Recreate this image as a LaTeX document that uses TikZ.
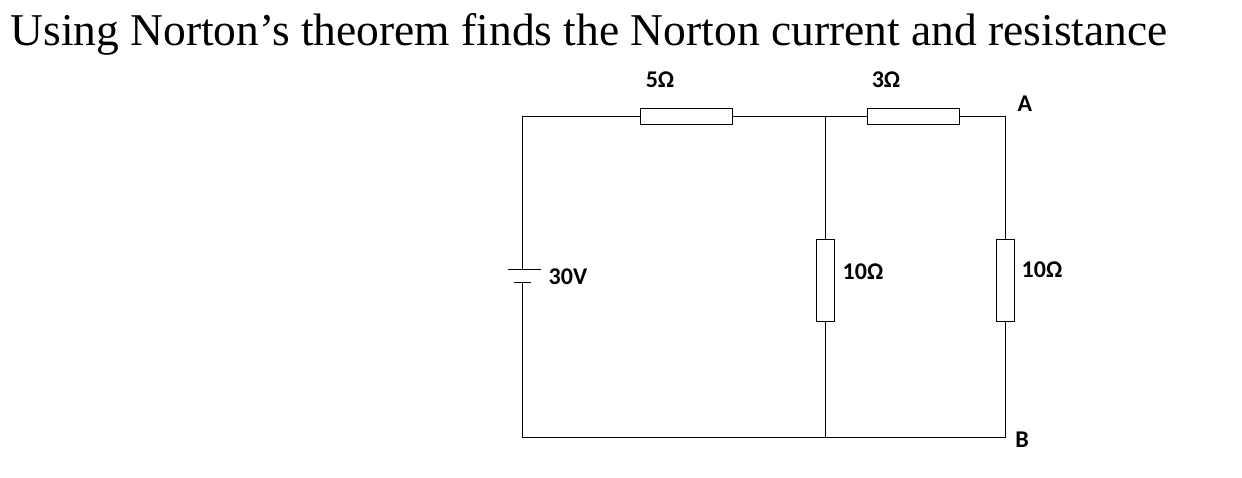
\documentclass[tikz,border=0pt]{standalone}
\usepackage{fontspec}
\setmainfont{Liberation Serif}
\newfontfamily\lab{Carlito}
\begin{document}
\begin{tikzpicture}[x=1pt,y=-1pt,line width=0.9pt,
  lbl/.style={font=\lab\fontsize{24}{24}\selectfont\bfseries,inner sep=0pt},
  hres/.style={draw,fill=white,minimum width=92pt,minimum height=16pt,inner sep=0pt},
  vres/.style={draw,fill=white,minimum width=18pt,minimum height=82pt,inner sep=0pt}]
\useasboundingbox (0,0) rectangle (1242,478);
\node[anchor=west,inner sep=0pt,font=\fontsize{45.5}{46}\selectfont] (title) at (10,34) {Using Norton’s theorem finds the Norton current and resistance};
\coordinate (tl) at (522,116); \coordinate (tm) at (825,116); \coordinate (tr) at (1005,116);
\coordinate (bl) at (522,437); \coordinate (bm) at (825,437); \coordinate (br) at (1005,437);
\coordinate (bp) at (522,269); \coordinate (bn) at (522,282);
\draw (bp) -- (tl) -- (tr) -- (br) -- (bl) -- (bn);
\draw (tm) -- (bm);
\draw (508,269) -- (541,269);
\draw (514,282) -- (531,282);
\node[hres] (r5) at (686,116) {};
\node[hres] (r3) at (913,116) {};
\node[vres] (r10a) at (825,280) {};
\node[vres] (r10b) at (1005,280) {};
\node[lbl] (l5) at (660,80) {5Ω};
\node[lbl] (l3) at (886,80) {3Ω};
\node[lbl] (lv) at (568,277) {30V};
\node[lbl] (la) at (863,272) {10Ω};
\node[lbl] (lb) at (1042,270) {10Ω};
\node[lbl] (lA) at (1025,104) {A};
\node[lbl] (lB) at (1022,440) {B};
\end{tikzpicture}
\end{document}
